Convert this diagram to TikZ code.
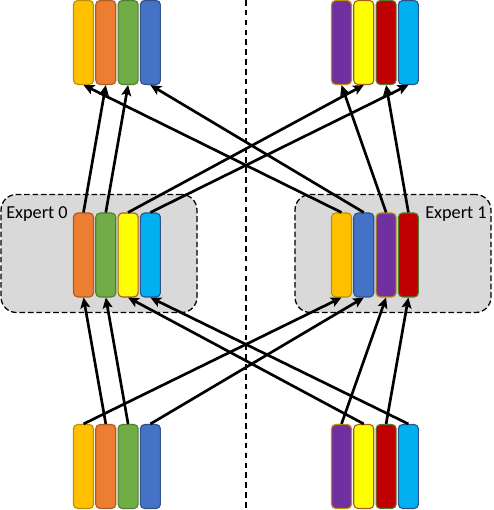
\documentclass[tikz,border=0pt]{standalone}
\usepackage{fontspec}
\setmainfont{Carlito}
\usetikzlibrary{arrows.meta, positioning}
\definecolor{cGold}{HTML}{FFC000}
\definecolor{cOrange}{HTML}{ED7D31}
\definecolor{cGreen}{HTML}{70AD47}
\definecolor{cBlue}{HTML}{4472C4}
\definecolor{cPurple}{HTML}{7030A0}
\definecolor{cYellow}{HTML}{FFFF00}
\definecolor{cRed}{HTML}{C00000}
\definecolor{cCyan}{HTML}{00B0F0}
\definecolor{dGold}{HTML}{BF9000}
\definecolor{dOrange}{HTML}{AE5A21}
\definecolor{dGreen}{HTML}{507E32}
\definecolor{dBlue}{HTML}{2F528F}
\definecolor{boxgray}{HTML}{D9D9D9}

\begin{document}
\begin{tikzpicture}[
        bar/.style={draw, line width=0.8pt, rounded corners=3pt, inner sep=0pt,
                     minimum width=0.5cm, minimum height=2.1cm},
        expert/.style={draw, fill=boxgray, line width=0.9pt, dash pattern=on 4pt off 2pt,
                     rounded corners=11pt, minimum width=4.9cm, minimum height=2.95cm},
        lbl/.style={font=\fontsize{13}{15}\selectfont, inner sep=0pt},
        arr/.style={-{Stealth[length=7.5pt, width=7pt, inset=1.5pt]}, line width=1.9pt, black}
      ]
      \useasboundingbox (0,0) rectangle (12.35,12.75);

      % Experten
      \node[expert] (boxA) at (2.475,6.4125) {};
      \node[expert] (boxB) at (9.825,6.4125) {};
      \node[lbl, anchor=base west] (lblA) at (0.15,7.29) {Expert 0};
      \node[lbl, anchor=base west] (lblB) at (10.625,7.29) {Expert 1};

      % Trennlinie
      \coordinate (sepTop) at (6.15,12.75);
      \coordinate (sepBot) at (6.15,0);
      \draw[line width=0.8pt, dash pattern=on 4pt off 3pt] (sepTop) -- (sepBot);

      % Eingabe
      \foreach \f/\d [count=\i] in {cGold/dGold, cOrange/dOrange, cGreen/dGreen, cBlue/dBlue}
        \node[bar, fill=\f, draw=\d] (inL\i) at ({1.53+0.5575*\i},1.0875) {};
      \foreach \f/\d [count=\i] in {cPurple/dGold, cYellow/dOrange, cRed/dGreen, cCyan/dBlue}
        \node[bar, fill=\f, draw=\d] (inR\i) at ({7.98+0.5575*\i},1.0875) {};

      % Experten-Tokens
      \foreach \f/\d [count=\i] in {cOrange/dOrange, cGreen/dGreen, cYellow/dOrange, cCyan/dBlue}
        \node[bar, fill=\f, draw=\d] (exA\i) at ({1.53+0.5575*\i},6.375) {};
      \foreach \f/\d [count=\i] in {cGold/dGold, cBlue/dBlue, cPurple/dGold, cRed/dGreen}
        \node[bar, fill=\f, draw=\d] (exB\i) at ({7.98+0.5575*\i},6.375) {};

      % Ausgabe
      \foreach \f/\d [count=\i] in {cGold/dGold, cOrange/dOrange, cGreen/dGreen, cBlue/dBlue}
        \node[bar, fill=\f, draw=\d] (outL\i) at ({1.53+0.5575*\i},11.6875) {};
      \foreach \f/\d [count=\i] in {cPurple/dGold, cYellow/dOrange, cRed/dGreen, cCyan/dBlue}
        \node[bar, fill=\f, draw=\d] (outR\i) at ({7.98+0.5575*\i},11.6875) {};

      % dispatch
      \draw[arr] (inL2.north) -- (exA1.south);
      \draw[arr] (inL3.north) -- (exA2.south);
      \draw[arr] (inR2.north) -- (exA3.south);
      \draw[arr] (inR4.north) -- (exA4.south);
      \draw[arr] (inL1.north) -- (exB1.south);
      \draw[arr] (inL4.north) -- (exB2.south);
      \draw[arr] (inR1.north) -- (exB3.south);
      \draw[arr] (inR3.north) -- (exB4.south);

      % combine
      \draw[arr] (exA1.north) -- (outL2.south);
      \draw[arr] (exA2.north) -- (outL3.south);
      \draw[arr] (exB1.north) -- (outL1.south);
      \draw[arr] (exB2.north) -- (outL4.south);
      \draw[arr] (exA3.north) -- (outR2.south);
      \draw[arr] (exA4.north) -- (outR4.south);
      \draw[arr] (exB3.north) -- (outR1.south);
      \draw[arr] (exB4.north) -- (outR3.south);
    \end{tikzpicture}
\end{document}
